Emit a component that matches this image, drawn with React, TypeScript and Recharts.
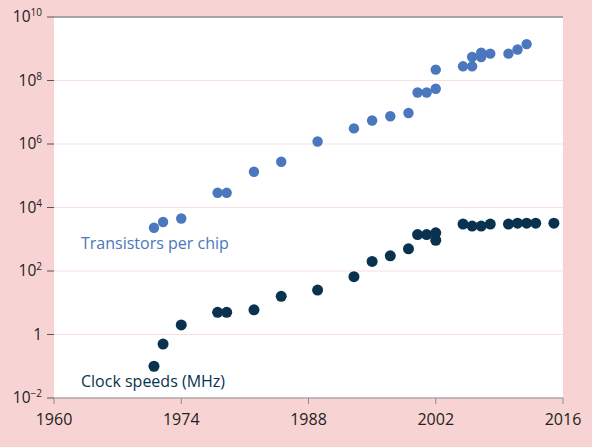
import { CartesianGrid, ReferenceLine, Scatter, ScatterChart, XAxis, YAxis } from "recharts";

const transistorYears = [1971, 1972, 1974, 1978, 1979, 1982, 1985, 1989, 1993, 1995, 1997, 1999, 2000, 2001, 2002, 2002, 2005, 2006, 2006, 2007, 2007, 2008, 2010, 2011, 2012];
const transistorCounts = [2300, 3500, 4500, 29000, 29000, 134000, 275000, 1200000, 3100000, 5500000, 7500000, 9500000, 42000000, 42000000, 55000000, 220000000, 280000000, 280000000, 550000000, 550000000, 750000000, 700000000, 700000000, 950000000, 1400000000];

const clockYears = [1971, 1972, 1974, 1978, 1979, 1982, 1985, 1989, 1993, 1995, 1997, 1999, 2000, 2001, 2002, 2002, 2005, 2006, 2007, 2008, 2010, 2011, 2012, 2013, 2015];
const clockMHz = [0.1, 0.5, 2, 5, 5, 6, 16, 25, 66, 200, 300, 500, 1400, 1400, 1600, 930, 3000, 2600, 2600, 3000, 3000, 3200, 3200, 3200, 3200];

const yearTicks = [1960, 1974, 1988, 2002, 2016];
const powerTicks = [-2, 0, 2, 4, 6, 8, 10];

const transistors = transistorYears.map((year, i) => ({ year, value: transistorCounts[i] }));
const clocks = clockYears.map((year, i) => ({ year, value: clockMHz[i] }));

const BLUE = "#4a77bd";
const DARK = "#09324f";
const PINK = "#f8d3d4";
const FONT = "'Open Sans', sans-serif";

function PowerTick({ x, y, index }: any) {
  const p = powerTicks[index];
  return (
    <text x={x - 3} y={y + 5} textAnchor="end" fontFamily={FONT} fontSize={15.5} fill="#222">
      {p === 0 ? "1" : "10"}
      {p !== 0 && (
        <tspan fontSize={10} dy={-6}>
          {p < 0 ? "\u2212" + Math.abs(p) : p}
        </tspan>
      )}
    </text>
  );
}

function YearTick({ x, y, payload }: any) {
  return (
    <text x={x} y={y + 19} textAnchor="middle" fontFamily={FONT} fontSize={16} fill="#222">
      {payload.value}
    </text>
  );
}

const dot = (fill: string, r: number) => (props: any) => <circle cx={props.cx} cy={props.cy} r={r} fill={fill} />;

export default function App() {
  return (
    <div style={{ position: "absolute", left: 0, top: 0, width: 592, height: 447, background: PINK }}>
      <ScatterChart width={592} height={447} margin={{ top: 17, right: 29, bottom: 0, left: 0 }}>
        <CartesianGrid fill="#ffffff" vertical={false} stroke="#f8dfe3" />
        <XAxis
          type="number"
          dataKey="year"
          domain={[1960, 2016]}
          ticks={yearTicks}
          height={49}
          axisLine={{ stroke: "#8c8c8c" }}
          tickLine={{ stroke: "#8c8c8c" }}
          tickSize={6}
          tick={<YearTick />}
          allowDataOverflow
        />
        <YAxis
          type="number"
          dataKey="value"
          scale="log"
          domain={[0.01, 1e10]}
          ticks={powerTicks.map((p) => Math.pow(10, p))}
          width={54}
          axisLine={false}
          tickLine={{ stroke: "#555" }}
          tickSize={7}
          tick={<PowerTick />}
          allowDataOverflow
        />
        <ReferenceLine y={1e10} stroke="#8c8c8c" strokeWidth={1.5} />
        <Scatter data={transistors} shape={dot(BLUE, 5.2)} isAnimationActive={false} />
        <Scatter data={clocks} shape={dot(DARK, 5.5)} isAnimationActive={false} />
      </ScatterChart>
      <svg width={592} height={447} style={{ position: "absolute", left: 0, top: 0, pointerEvents: "none" }}>
        <text x={81} y={249} fontFamily={FONT} fontSize={16} fill={BLUE}>
          Transistors per chip
        </text>
        <text x={81} y={387} fontFamily={FONT} fontSize={16} fill={DARK}>
          Clock speeds (MHz)
        </text>
      </svg>
    </div>
  );
}
